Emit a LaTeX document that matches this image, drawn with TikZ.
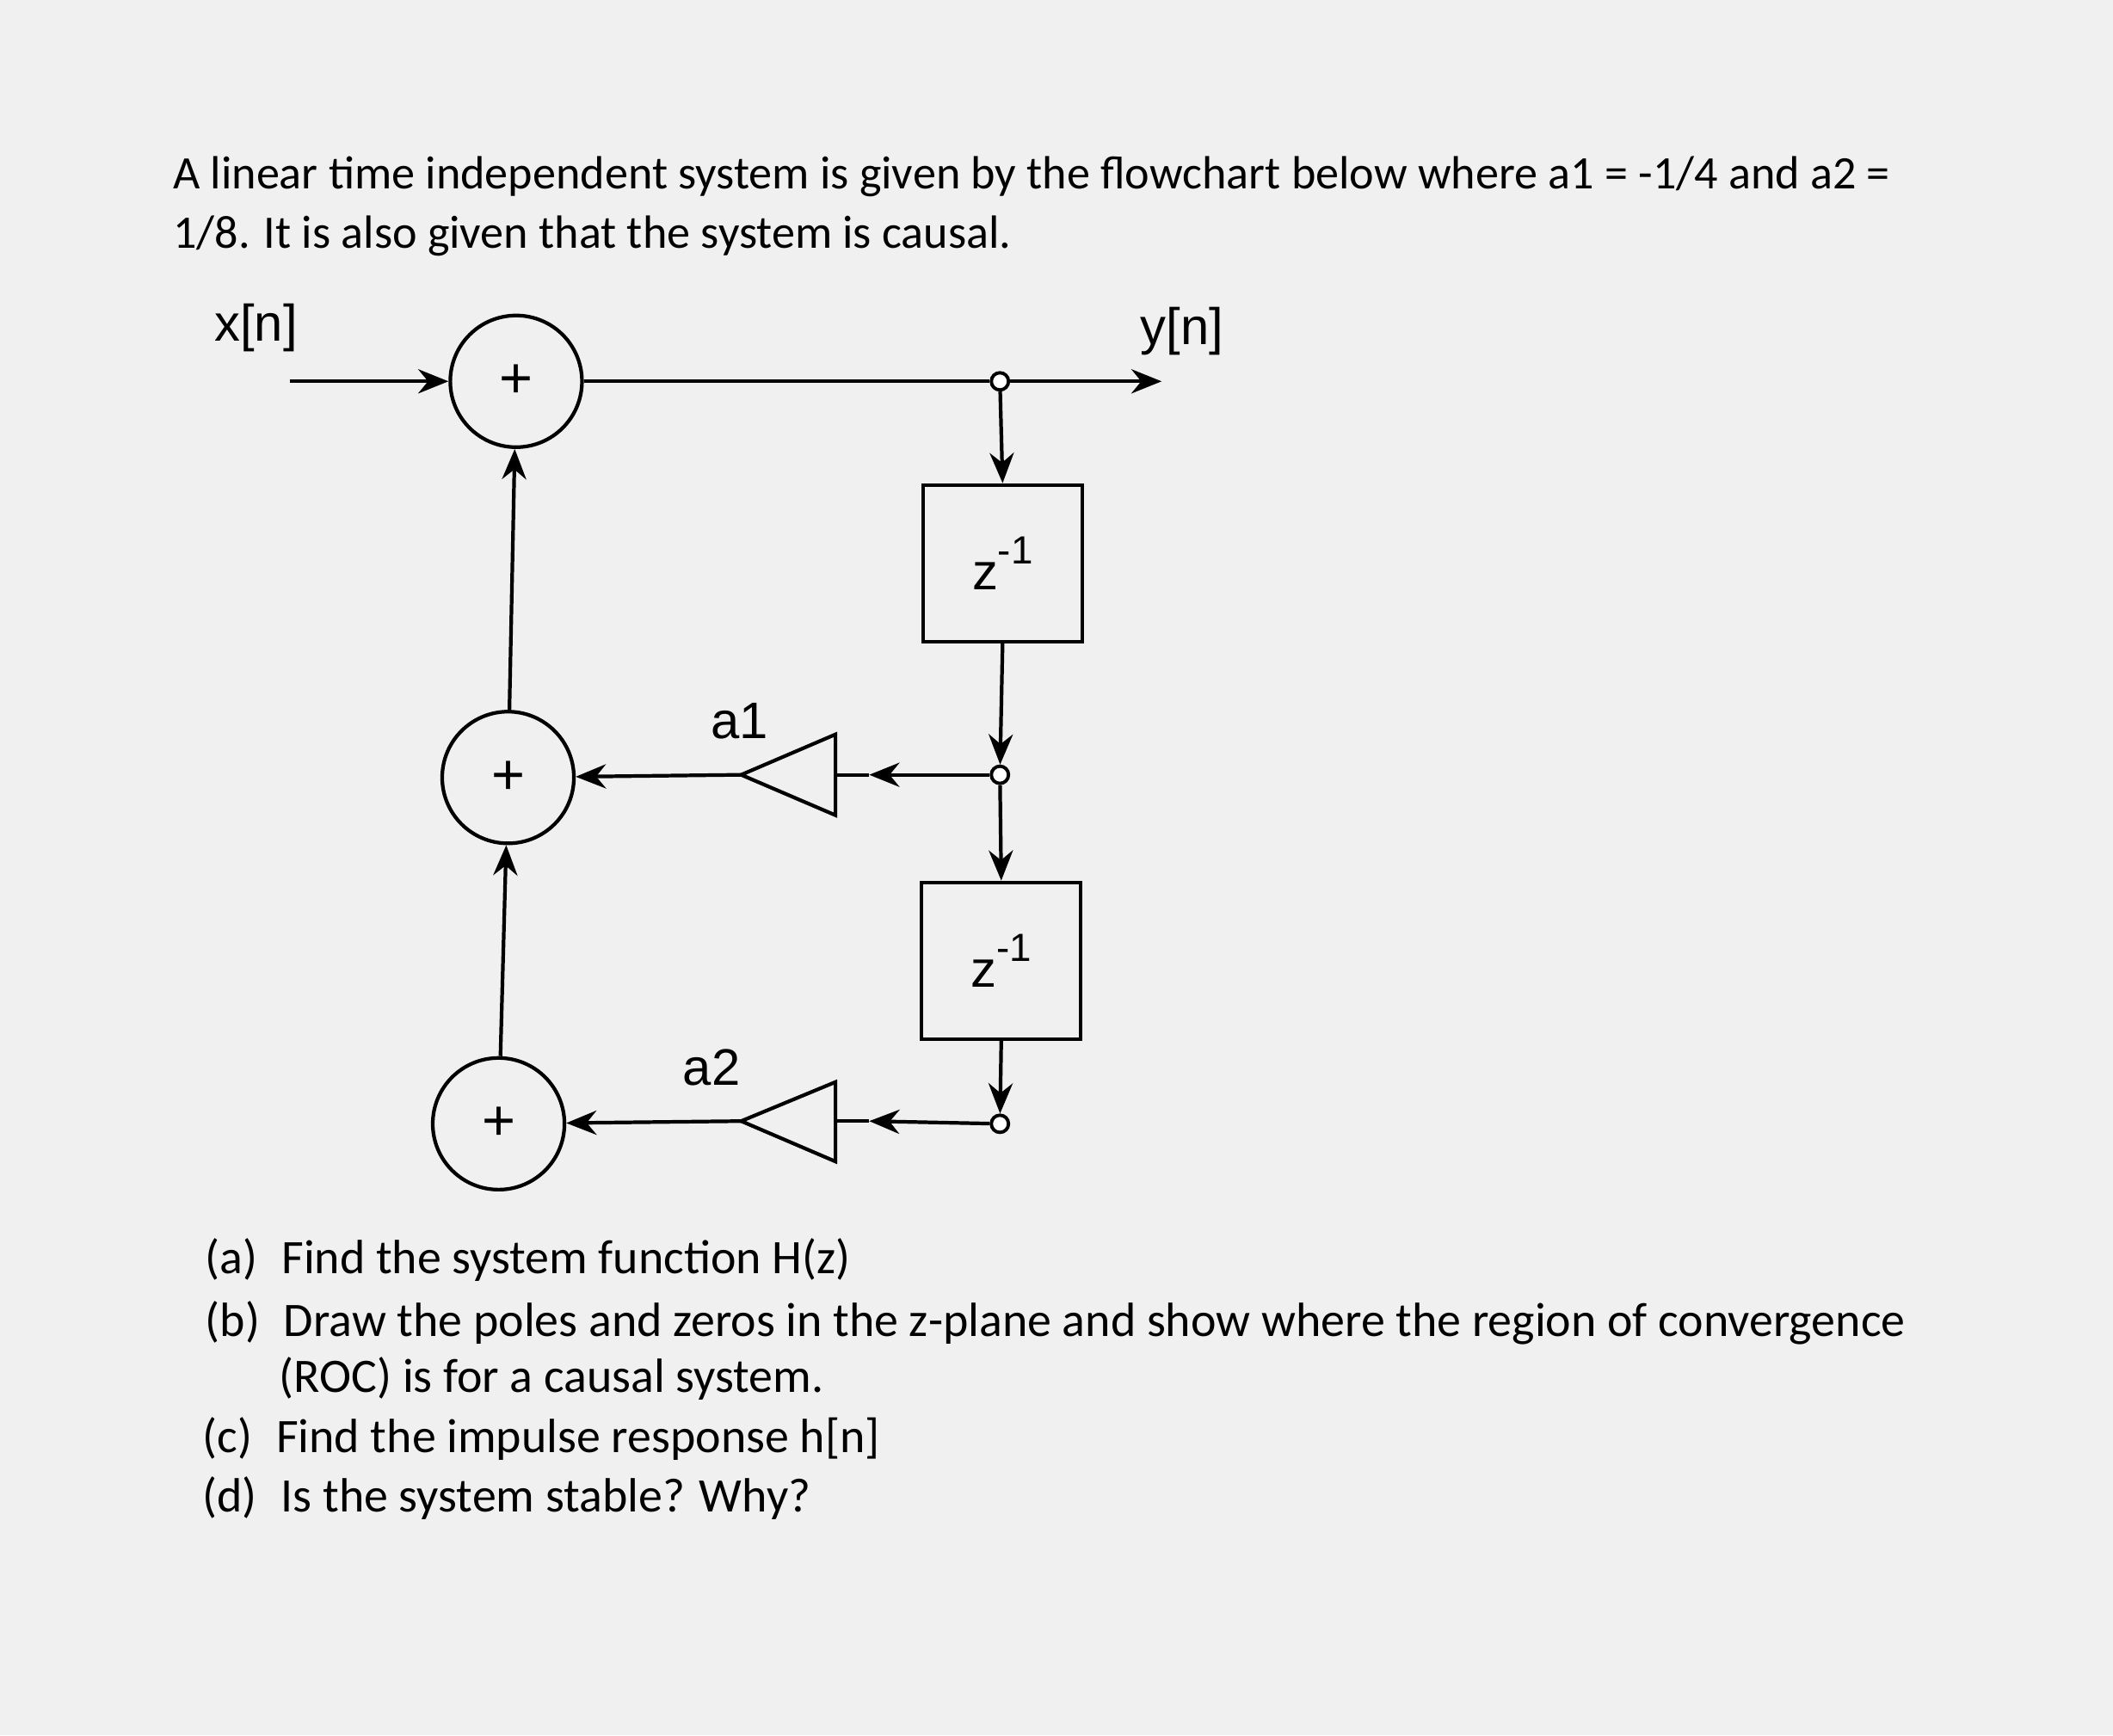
\documentclass[tikz,border=0pt]{standalone}
\usepackage{fontspec}
\setmainfont{Carlito}
\newfontfamily\arial{Liberation Sans}
\usetikzlibrary{arrows.meta}
\begin{document}
\begin{tikzpicture}[x=0.01566cm,y=-0.01566cm,
  sumnode/.style={circle,draw,line width=1.2pt,minimum size=1.53cm,inner sep=0pt,font=\arial\fontsize{19}{20}\selectfont},
  delaybox/.style={draw,line width=1.2pt,minimum width=1.85cm,minimum height=1.82cm,inner sep=0pt,font=\arial\fontsize{17}{19}\selectfont},
  tapnode/.style={circle,draw,line width=1.1pt,fill=white,minimum size=0.2cm,inner sep=0pt},
  wire/.style={line width=1.2pt},
  arr/.style={wire,-{Stealth[length=10pt,width=8pt]}},
  lbl/.style={font=\arial\fontsize{17}{19}\selectfont},
  txt/.style={anchor=west,font=\fontsize{15.4}{18}\selectfont,inner sep=0pt},
  qtxt/.style={anchor=west,font=\fontsize{15.9}{18}\selectfont,inner sep=0pt}]
\fill[gray!12] (0,0) rectangle (1568,1288);
\useasboundingbox (0,0) rectangle (1568,1288);
\node[txt] (t1) at (128,131) {A linear time independent system is given by the flowchart below where a1 = -1/4 and a2 =};
\node[txt] (t2) at (128,175) {1/8. It is also given that the system is causal.};
\node[lbl] (x) at (190,243) {x[n]};
\node[lbl] (y) at (877,246) {y[n]};
\node[sumnode] (s1) at (383,283) {+};
\node[sumnode] (s2) at (377,577) {+};
\node[sumnode] (s3) at (370,834) {+};
\node[delaybox] (d1) at (744,418) {z\raisebox{0.5em}{\fontsize{13}{14}\selectfont -1}};
\node[delaybox] (d2) at (743,713) {z\raisebox{0.5em}{\fontsize{13}{14}\selectfont -1}};
\node[tapnode] (p1) at (742,283) {};
\node[tapnode] (p2) at (742,575) {};
\node[tapnode] (p3) at (742,834) {};
\coordinate (xin) at (215,283);
\coordinate (yout) at (862,283);
\draw[arr] (xin) -- (s1);
\draw[wire] (s1) -- (p1);
\draw[arr] (p1) -- (yout);
\draw[arr] (p1) -- (d1.north);
\draw[arr] (d1.south) -- (p2);
\draw[arr] (p2) -- (d2.north);
\draw[arr] (d2.south) -- (p3);
% gains
\draw[wire] (620,545) -- (550,575) coordinate (g1) -- (620,605) -- cycle;
\draw[wire] (620,803) -- (550,832) coordinate (g2) -- (620,862) -- cycle;
\coordinate (m1) at (645,575);
\coordinate (m2) at (645,832);
\draw[arr] (p2) -- (m1);
\draw[wire] (m1) -- (620,575);
\draw[arr] (p3) -- (m2);
\draw[wire] (m2) -- (620,832);
\draw[arr] (g1) -- (s2);
\draw[arr] (g2) -- (s3);
\draw[arr] (s2) -- (s1);
\draw[arr] (s3) -- (s2);
\node[lbl] (a1) at (549,535) {a1};
\node[lbl] (a2) at (528,792) {a2};
\node[qtxt] (qa) at (152,935) {(a)\hspace{0.5em}Find the system function H(z)};
\node[qtxt] (qb) at (152,982) {(b)\hspace{0.5em}Draw the poles and zeros in the z-plane and show where the region of convergence};
\node[qtxt] (qb2) at (207,1023) {(ROC) is for a causal system.};
\node[qtxt] (qc) at (150,1068) {(c)\hspace{0.5em}Find the impulse response h[n]};
\node[qtxt] (qd) at (150,1112) {(d)\hspace{0.5em}Is the system stable? Why?};
\end{tikzpicture}
\end{document}
